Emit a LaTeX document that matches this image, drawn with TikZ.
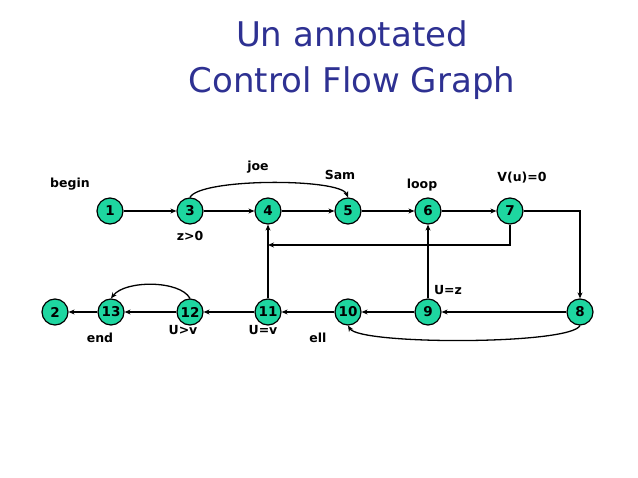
\documentclass[tikz,border=0pt]{standalone}
\usepackage{fontspec}
\setmainfont{DejaVu Sans}
\usetikzlibrary{arrows.meta}
\definecolor{nodeg}{HTML}{1ED6A0}
\definecolor{titleb}{HTML}{2E3192}
\begin{document}
\begin{tikzpicture}[x=1pt,y=-1pt,
  n/.style={circle,draw=black,line width=1.2pt,fill=nodeg,minimum size=26pt,inner sep=0pt,font=\bfseries\fontsize{13.5}{13.5}\selectfont},
  lb/.style={font=\bfseries\fontsize{12.5}{12.5}\selectfont},
  e/.style={line width=1.3pt,-{Stealth[length=6pt,width=5pt]}}]
\useasboundingbox (0,0) rectangle (638,478);
\node[text=titleb,align=center,font=\fontsize{34}{46}\selectfont] (t) at (352,60) {Un annotated\\Control Flow Graph};
\node[n] (n1) at (110,211) {1};
\node[n] (n3) at (190,211) {3};
\node[n] (n4) at (268,211) {4};
\node[n] (n5) at (348,211) {5};
\node[n] (n6) at (428,211) {6};
\node[n] (n7) at (510,211) {7};
\node[n] (n2) at (55,312) {2};
\node[n] (n13) at (111,312) {13};
\node[n] (n12) at (190,312) {12};
\node[n] (n11) at (268,312) {11};
\node[n] (n10) at (348,312) {10};
\node[n] (n9) at (428,312) {9};
\node[n] (n8) at (580,312) {8};
\coordinate (j) at (268,245);
\draw[e] (n1) -- (n3);
\draw[e] (n3) -- (n4);
\draw[e] (n4) -- (n5);
\draw[e] (n5) -- (n6);
\draw[e] (n6) -- (n7);
\draw[e] (n7.east) -| (n8.north);
\draw[e] (n7.south) |- (j);
\draw[e] (n8) -- (n9);
\draw[e] (n9) -- (n10);
\draw[e] (n10) -- (n11);
\draw[e] (n11) -- (n12);
\draw[e] (n12) -- (n13);
\draw[e] (n13) -- (n2);
\draw[e] (n11) -- (n4);
\draw[e] (n9) -- (n6);
\draw[e] (n3.north) .. controls (200,178) and (340,178) .. (n5.north);
\draw[e] (n12.north) .. controls (180,280) and (125,280) .. (n13.north);
\draw[e] (n8.south) .. controls (570,345) and (360,345) .. (n10.south);
\node[lb] (l1) at (70,184) {begin};
\node[lb] (l2) at (258,167) {joe};
\node[lb] (l3) at (340,175) {Sam};
\node[lb] (l4) at (422,185) {loop};
\node[lb] (l5) at (522,178) {V(u)=0};
\node[lb] (l6) at (190,236) {z>0};
\node[lb] (l7) at (448,290) {U=z};
\node[lb] (l8) at (100,338) {end};
\node[lb] (l9) at (183,330) {U>v};
\node[lb] (l10) at (263,330) {U=v};
\node[lb] (l11) at (318,338) {ell};
\end{tikzpicture}
\end{document}
